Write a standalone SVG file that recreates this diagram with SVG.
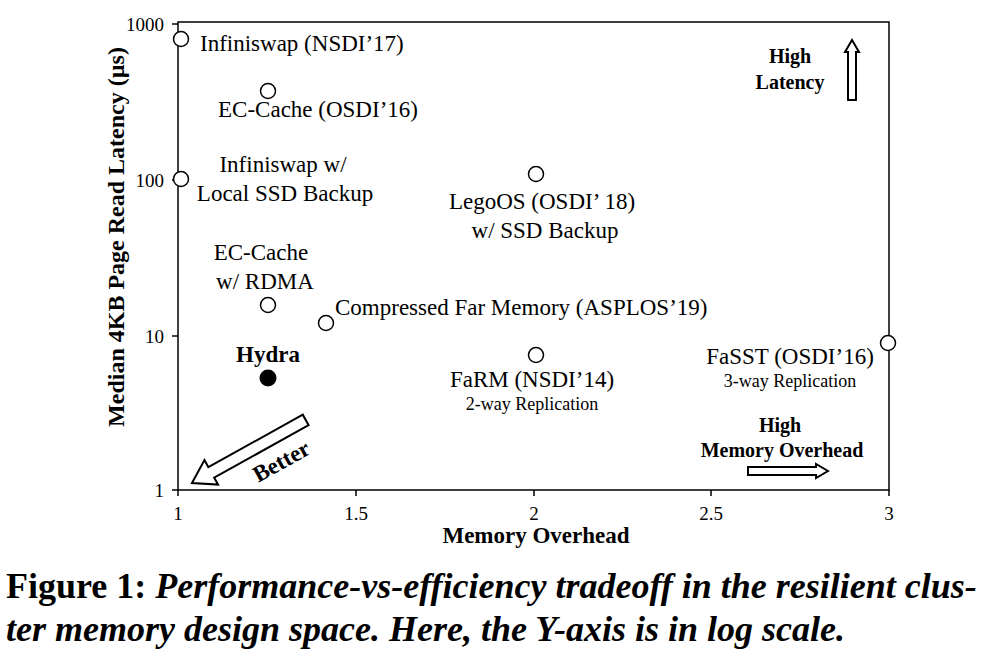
<svg xmlns="http://www.w3.org/2000/svg" width="1001" height="662" viewBox="0 0 1001 662">
<style>
text{font-family:"Liberation Serif",serif;fill:#000}
.l{font-size:23px}
.s{font-size:18px}
.t{font-size:19px}
.h{font-size:20px;font-weight:bold}
.b{font-weight:bold}
.c{fill:#fff;stroke:#000;stroke-width:1.5}
.ax{stroke:#000;stroke-width:1.5;fill:none}
.ar{fill:#fff;stroke:#000;stroke-width:2}
</style>
<rect width="1001" height="662" fill="#fff"/>
<g id="axes">
<rect class="ax" x="178" y="22" width="711" height="468"/>
<path class="ax" d="M172 24H178M172 180H178M172 336H178M172 490H178M178 490V496M356 490V496M534 490V496M711 490V496M889 490V496"/>
<g class="t" text-anchor="end">
<text x="164" y="31">1000</text><text x="164" y="187">100</text><text x="164" y="343">10</text><text x="164" y="497">1</text>
</g>
<g class="t" text-anchor="middle">
<text x="178" y="520">1</text><text x="356" y="520">1.5</text><text x="534" y="520">2</text><text x="711" y="520">2.5</text><text x="889" y="520">3</text>
</g>
<text class="b" style="font-size:23px" x="536" y="543" text-anchor="middle">Memory Overhead</text>
<text class="b" style="font-size:24px" transform="translate(124,237) rotate(-90)" text-anchor="middle">Median 4KB Page Read Latency (µs)</text>
</g>
<g id="points">
<circle class="c" cx="181" cy="39" r="7.5"/><text class="l" x="200" y="51">Infiniswap (NSDI’17)</text>
<circle class="c" cx="268" cy="91" r="7.5"/><text class="l" x="318" y="117" text-anchor="middle">EC-Cache (OSDI’16)</text>
<circle class="c" cx="181" cy="179" r="7.5"/><text class="l" x="283" y="172" text-anchor="middle">Infiniswap w/</text><text class="l" x="285" y="201" text-anchor="middle">Local SSD Backup</text>
<circle class="c" cx="536" cy="174" r="7.5"/><text class="l" x="542" y="209" text-anchor="middle">LegoOS (OSDI’ 18)</text><text class="l" x="545" y="238" text-anchor="middle">w/ SSD Backup</text>
<circle class="c" cx="268" cy="305" r="7.5"/><text class="l" x="261" y="260" text-anchor="middle">EC-Cache</text><text class="l" x="265" y="289" text-anchor="middle">w/ RDMA</text>
<circle class="c" cx="326" cy="323" r="7.5"/><text class="l" x="335" y="315">Compressed Far Memory (ASPLOS’19)</text>
<circle cx="268" cy="378" r="8.5" fill="#000"/><text class="l b" x="268" y="362" text-anchor="middle">Hydra</text>
<circle class="c" cx="536" cy="355" r="7.5"/><text class="l" x="532" y="387" text-anchor="middle">FaRM (NSDI’14)</text><text class="s" x="532" y="410" text-anchor="middle">2-way Replication</text>
<circle class="c" cx="888" cy="343" r="7.5"/><text class="l" x="790" y="364" text-anchor="middle">FaSST (OSDI’16)</text><text class="s" x="790" y="387" text-anchor="middle">3-way Replication</text>
</g>
<g id="arrows">
<polygon class="ar" transform="translate(192,483) rotate(-29)" points="0,0 22,-14 22,-6 130,-6 130,6 22,6 22,14"/>
<text class="h" style="font-size:23px" transform="translate(285,468) rotate(-29)" text-anchor="middle">Better</text>
<polygon class="ar" points="852,40 859,52 856,52 856,100 848,100 848,52 845,52"/>
<text class="h" x="790" y="63" text-anchor="middle">High</text><text class="h" x="790" y="89" text-anchor="middle">Latency</text>
<polygon class="ar" points="828,471 816,464 816,467 748,467 748,475 816,475 816,478"/>
<text class="h" x="780" y="432" text-anchor="middle">High</text><text class="h" x="782" y="457" text-anchor="middle">Memory Overhead</text>
</g>
<g id="caption">
<text x="6" y="598" style="font-size:36px"><tspan font-weight="bold">Figure 1: </tspan><tspan font-weight="bold" font-style="italic">Performance-vs-efficiency tradeoff in the resilient clus-</tspan></text>
<text x="6" y="641" style="font-size:36px;font-weight:bold;font-style:italic">ter memory design space. Here, the Y-axis is in log scale.</text>
</g>
</svg>
